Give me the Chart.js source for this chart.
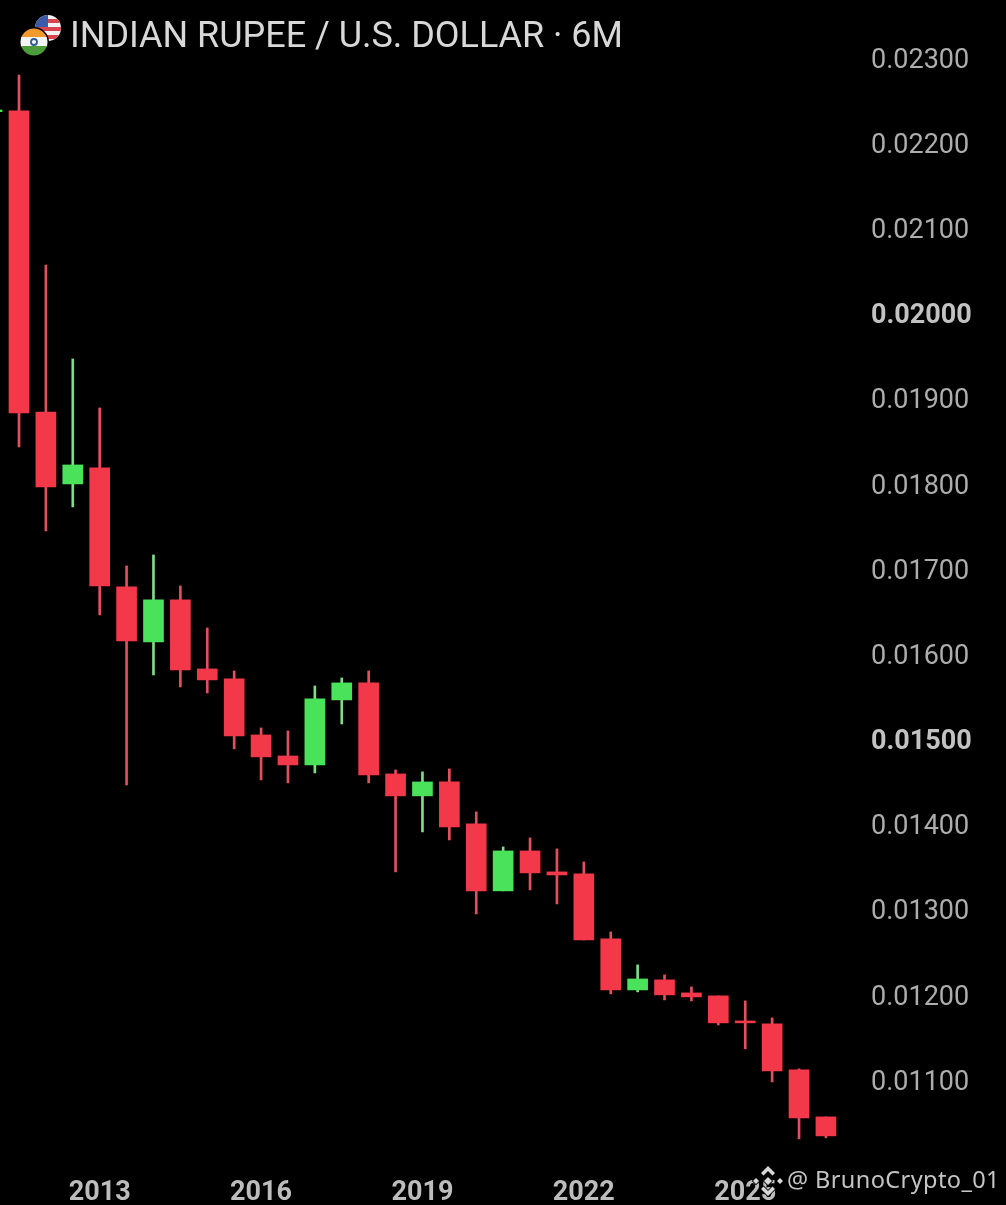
<!DOCTYPE html>
<html>
<head>
<meta charset="utf-8">
<title>INDIAN RUPEE / U.S. DOLLAR</title>
<script src="https://cdn.jsdelivr.net/npm/chart.js@4"></script>
<style>
    html, body { margin: 0; padding: 0; background: #000; }
    #wrap { position: relative; width: 1006px; height: 1205px; overflow: hidden; }
    #myChart { position: absolute; left: 0; top: 0; }
    #title {
        position: absolute; left: 70px; top: 14px;
        font: 400 36px Roboto, sans-serif; color: #d8d8d8; white-space: nowrap; letter-spacing: -0.03px;
    }
    #flags { position: absolute; left: 20px; top: 14px; }
    #logo { position: absolute; left: 752px; top: 1164px; }
    #handle {
        position: absolute; left: 787px; top: 1163px;
        font: 23.5px "Noto Sans", sans-serif; color: #c4c4c4; white-space: nowrap; letter-spacing: 0.4px;
    }
</style>
</head>
<body>
<div id="wrap">
    <canvas id="myChart" width="1006" height="1205"></canvas>
    <svg id="flags" width="44" height="44" viewBox="0 0 44 44">
        <defs>
            <clipPath id="usClip"><circle cx="28" cy="14" r="13"></circle></clipPath>
            <clipPath id="inClip"><circle cx="14" cy="28" r="13.5"></circle></clipPath>
        </defs>
        <g clip-path="url(#usClip)">
            <rect x="14" y="0" width="28" height="28" fill="#f2f2f2"></rect>
            <rect x="14" y="5" width="28" height="4" fill="#d8434e"></rect>
            <rect x="14" y="13" width="28" height="4" fill="#d8434e"></rect>
            <rect x="14" y="21" width="28" height="4" fill="#d8434e"></rect>
            <rect x="14" y="0" width="14" height="13" fill="#3b5aa8"></rect>
        </g>
        <circle cx="14" cy="28" r="15" fill="#000"></circle>
        <g clip-path="url(#inClip)">
            <rect x="0" y="14" width="28" height="10" fill="#f39a2e"></rect>
            <rect x="0" y="23" width="28" height="10" fill="#f5f5f5"></rect>
            <rect x="0" y="32" width="28" height="10" fill="#4c9c3c"></rect>
            <circle cx="14" cy="28" r="3" fill="none" stroke="#2c5b96" stroke-width="1.8"></circle>
        </g>
    </svg>
    <div id="title">INDIAN RUPEE / U.S. DOLLAR · 6M</div>
    <svg id="logo" width="32" height="34" viewBox="-1 -1 32 34" fill="#d8d8d8" stroke="#000" stroke-width="1.6" paint-order="stroke">
        <path d="M15 1 L22 8 L19.5 10.5 L15 6 L10.5 10.5 L8 8 Z"></path>
        <path d="M3 13 L6 16 L3 19 L0 16 Z"></path>
        <path d="M27 13 L30 16 L27 19 L24 16 Z"></path>
        <path d="M15 12 L19 16 L15 20 L11 16 Z"></path>
        <path d="M15 31 L8 24 L10.5 21.5 L15 26 L19.5 21.5 L22 24 Z"></path>
    </svg>
    <div id="handle">@ BrunoCrypto_01</div>
</div>
<script>
// half-year candles, first one sits just off the left edge
const candleIndex = [-1, 0, 1, 2, 3, 4, 5, 6, 7, 8, 9, 10, 11, 12, 13, 14, 15, 16, 17, 18, 19, 20, 21, 22, 23, 24, 25, 26, 27, 28, 29, 30]
const opens = [0.02237, 0.02238, 0.018844, 0.017999, 0.018187, 0.01679, 0.016144, 0.016637, 0.015827, 0.01571, 0.015052, 0.014805, 0.0147, 0.015463, 0.015663, 0.014594, 0.014336, 0.0145, 0.014007, 0.013221, 0.01369, 0.013444, 0.01342, 0.012657, 0.012058, 0.012176, 0.012023, 0.011988, 0.011694, 0.011659, 0.011119, 0.010567]
const highs = [0.02239, 0.0228, 0.02057, 0.019466, 0.018891, 0.017036, 0.017165, 0.016801, 0.016308, 0.015803, 0.015134, 0.015099, 0.015627, 0.015721, 0.015803, 0.014641, 0.014618, 0.014653, 0.014148, 0.013737, 0.013843, 0.013714, 0.013561, 0.012739, 0.012352, 0.012234, 0.012094, 0.011988, 0.011929, 0.01173, 0.011131, 0.010567]
const lows = [0.02237, 0.018433, 0.017447, 0.017729, 0.016461, 0.014465, 0.015756, 0.015615, 0.015545, 0.014888, 0.014524, 0.014489, 0.014606, 0.015181, 0.014489, 0.013444, 0.013913, 0.013819, 0.01295, 0.013221, 0.013232, 0.013068, 0.012645, 0.012011, 0.012035, 0.011941, 0.011929, 0.011647, 0.011366, 0.010978, 0.010309, 0.010321]
const closes = [0.02239, 0.018832, 0.017964, 0.018222, 0.016801, 0.016156, 0.016637, 0.015815, 0.015698, 0.01504, 0.014794, 0.0147, 0.015475, 0.015663, 0.014582, 0.014336, 0.0145, 0.013972, 0.013221, 0.01369, 0.013432, 0.013408, 0.012645, 0.012058, 0.012187, 0.012, 0.011976, 0.011671, 0.011671, 0.011107, 0.010556, 0.010344]

const priceTicks = [0.023, 0.022, 0.021, 0.02, 0.019, 0.018, 0.017, 0.016, 0.015, 0.014, 0.013, 0.012, 0.011]
const boldPrices = [0.02, 0.015]
const yearTicks = [3, 9, 15, 21, 27]
const yearLabels = ["2013", "2016", "2019", "2022", "2025"]

const upColor = '#4be25b'
const downColor = '#f33849'
const upWick = '#7fdc88'
const downWick = '#e2505f'

const isUp = candleIndex.map((_, i) => closes[i] >= opens[i])
const isBold = ctx => !!ctx.tick && boldPrices.includes(ctx.tick.value)

// chart area has to run right to the canvas edge
const noPadding = scale => {
    scale.paddingLeft = 0
    scale.paddingRight = 0
    scale.paddingTop = 0
    scale.paddingBottom = 0
}

const config = {
    type: 'bar',
    data: {
        datasets: [
            {
                // wicks
                data: candleIndex.map((x, i) => ({ x: x, y: [lows[i], highs[i]] })),
                backgroundColor: isUp.map(up => up ? upWick : downWick),
                barThickness: 2,
                grouped: false,
                order: 2
            },
            {
                // bodies
                data: candleIndex.map((x, i) => ({ x: x, y: [opens[i], closes[i]] })),
                backgroundColor: isUp.map(up => up ? upColor : downColor),
                barThickness: 20,
                grouped: false,
                order: 1
            }
        ]
    },
    options: {
        responsive: false,
        animation: false,
        devicePixelRatio: 1,
        layout: { padding: 0 },
        plugins: {
            legend: { display: false },
            tooltip: { enabled: false },
            title: { display: false }
        },
        scales: {
            x: {
                type: 'linear',
                offset: false,
                min: -0.706,
                max: 31.49,
                grid: { display: false, drawTicks: false },
                border: { display: false },
                afterBuildTicks: scale => { scale.ticks = yearTicks.map(v => ({ value: v })) },
                afterFit: scale => { scale.height = 45; noPadding(scale) },
                ticks: {
                    autoSkip: false,
                    maxRotation: 0,
                    padding: 17,
                    color: '#bdbdbd',
                    font: { family: 'Roboto', size: 27, weight: 'bold' },
                    callback: value => yearLabels[yearTicks.indexOf(value)]
                }
            },
            y: {
                position: 'right',
                min: 0.010061,
                max: 0.023681,
                grid: { display: false, drawTicks: false },
                border: { display: false },
                afterBuildTicks: scale => { scale.ticks = priceTicks.map(v => ({ value: v })) },
                afterFit: scale => { scale.width = 140; noPadding(scale) },
                ticks: {
                    autoSkip: false,
                    padding: 5,
                    labelOffset: 3,
                    color: ctx => isBold(ctx) ? '#c2c2c2' : '#adadad',
                    font: ctx => ({
                        family: 'Roboto',
                        size: 27,
                        weight: isBold(ctx) ? 'bold' : 'normal'
                    }),
                    callback: value => value.toFixed(5)
                }
            }
        }
    }
};
var myChart = new Chart(document.getElementById('myChart'), config);
</script>
</body>
</html>
